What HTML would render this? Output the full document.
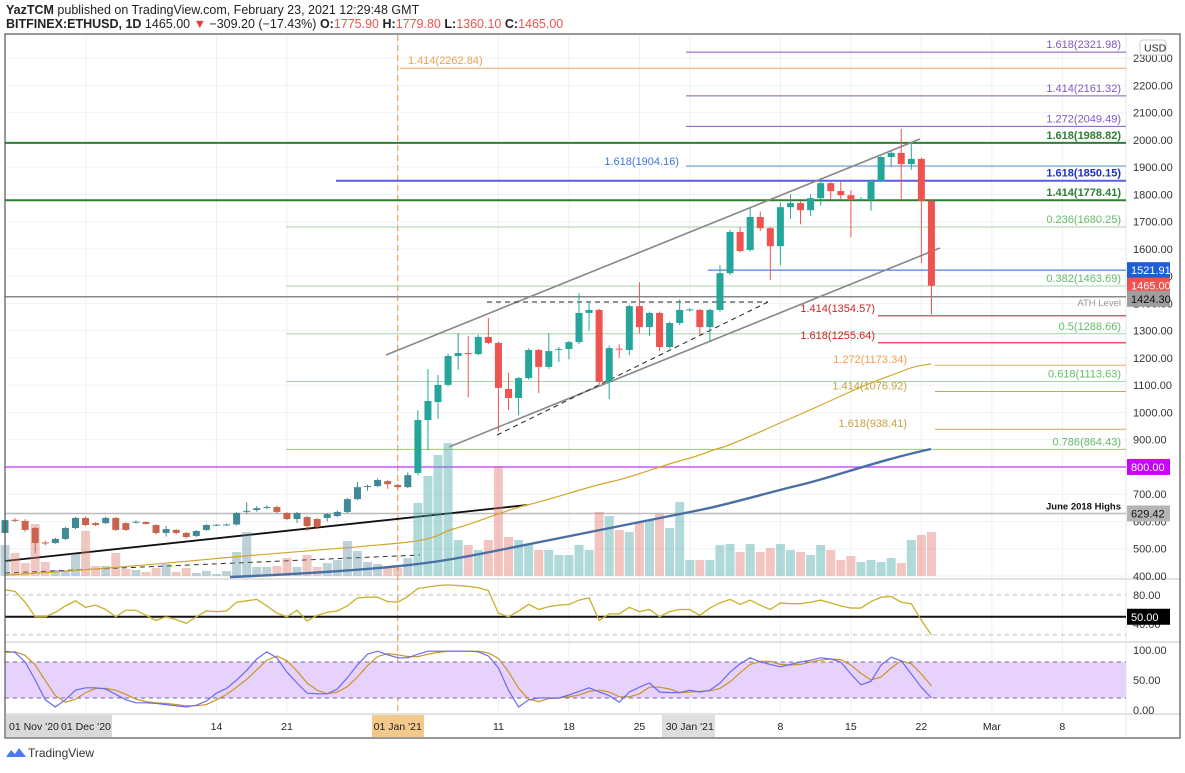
<!DOCTYPE html>
<html><head><meta charset="utf-8"><title>ETHUSD chart</title>
<style>
html,body{margin:0;padding:0;background:#fff;}
body{width:1185px;height:768px;overflow:hidden;font-family:"Liberation Sans",sans-serif;}
svg text{font-family:"Liberation Sans",sans-serif;}
</style></head>
<body>
<svg id="chart" width="1185" height="768" viewBox="0 0 1185 768" xmlns="http://www.w3.org/2000/svg">
<text x="6" y="14" font-size="12.5" fill="#222"><tspan font-weight="bold">YazTCM</tspan> published on TradingView.com, February 23, 2021 12:29:48 GMT</text>
<text x="6" y="28" font-size="12.5" fill="#222"><tspan font-weight="bold">BITFINEX:ETHUSD, 1D</tspan> 1465.00 <tspan fill="#e53935">▼</tspan> −309.20 (−17.43%) <tspan font-weight="bold">O:</tspan><tspan fill="#ef5350">1775.90</tspan> <tspan font-weight="bold">H:</tspan><tspan fill="#ef5350">1779.80</tspan> <tspan font-weight="bold">L:</tspan><tspan fill="#ef5350">1360.10</tspan> <tspan font-weight="bold">C:</tspan><tspan fill="#ef5350">1465.00</tspan></text>
<g id="grid"></g>
<g id="levels"></g>
<g id="volume"></g>
<g id="mas"></g>
<g id="candles"></g>
<g id="rsi"></g>
<g id="stoch"></g>
<g id="axis"></g>
<g id="timeaxis"></g>
<rect x="5" y="34" width="1175" height="704" fill="none" stroke="#555" stroke-width="1.2"/>
<g>
<path d="M6 757 L11 750 L15 754 L19 748 L26 757 Z" fill="#2962ff" opacity="0.85"/>
<text x="28" y="757" font-size="12" fill="#333">TradingView</text>
</g>
</svg>
<script>
const opens  = [558,606,602,576,523,521,536,576,613,594,594,613,594,598,598,587,558,569,558,547,569,586,587,589,637,642,651,653,631,609,616,609,613,620,635,682,728,730,748,734,726,778,972,1038,1101,1207,1218,1214,1277,1255,1086,1053,1126,1229,1167,1231,1233,1258,1365,1376,1112,1234,1229,1390,1313,1365,1240,1328,1375,1376,1313,1376,1511,1662,1596,1717,1676,1610,1753,1768,1742,1786,1841,1812,1797,1780,1779,1849,1937,1952,1911,1930,1775.9];
const highs  = [612,612,608,580,530,540,580,617,618,598,618,616,597,604,600,590,583,572,561,568,590,590,592,635,671,656,660,658,634,635,620,612,631,640,686,745,735,758,752,737,780,1009,1159,1137,1215,1291,1280,1285,1346,1260,1145,1130,1235,1233,1291,1240,1262,1438,1405,1380,1245,1250,1395,1478,1370,1370,1333,1415,1382,1380,1380,1540,1670,1680,1753,1737,1680,1770,1800,1775,1800,1860,1845,1850,1815,1790,1852,1940,1960,2040,1985,1935,1779.8];
const lows   = [550,598,562,484,512,518,532,572,583,583,590,565,565,593,588,552,545,553,538,543,566,584,584,585,628,636,645,630,605,595,565,572,600,616,631,678,713,726,720,720,722,770,862,976,1095,1156,1056,1210,1250,930,1009,990,1120,1071,1160,1185,1195,1250,1300,1100,1049,1200,1210,1290,1280,1225,1235,1320,1370,1280,1260,1370,1505,1587,1590,1665,1486,1540,1710,1690,1720,1760,1780,1780,1643,1775,1740,1845,1900,1778,1890,1548,1360.1];
const closes = [605,605,569,521,520,536,576,613,587,587,613,569,569,599,591,558,572,558,543,565,587,588,589,631,639,649,653,635,609,631,583,580,627,635,682,726,730,752,737,726,770,972,1042,1101,1207,1218,1214,1277,1255,1090,1053,1126,1229,1167,1225,1233,1258,1365,1376,1112,1236,1231,1390,1313,1365,1240,1328,1376,1378,1313,1376,1511,1662,1592,1717,1676,1610,1753,1768,1742,1786,1841,1812,1797,1779,1783,1849,1937,1952,1911,1930,1776,1465];
const volumes = [31,23,13,52,14,6,6,22,45,10,10,23,7,6,4,8,12,4,8,3,5,2,5,24,44,9,9,10,18,9,21,9,13,16,35,25,14,12,8,8,18,73,100,121,133,36,31,26,36,110,39,36,31,26,26,21,21,31,26,64,60,46,44,54,56,62,48,74,16,16,16,31,32,24,32,24,28,32,26,24,21,31,26,16,20,14,16,14,18,13,36,41,44];
const rsiValues = [87,85,70,50,50,56,65,72,63,66,60,50,59,59,52,45,50,46,41,50,58,57,58,70,72,74,65,55,50,59,44,52,56,58,65,76,77,77,71,70,78,89,91,93,94,93,92,90,86,55,50,58,67,60,64,66,67,73,76,45,54,54,63,57,60,50,57,60,60,52,62,69,74,67,73,66,60,69,68,68,70,73,69,65,62,62,71,77,78,70,68,45,25];
const stochK = [98,96,80,50,17,5,17,33,37,37,35,26,17,12,12,11,9,7,5,8,15,28,36,50,66,85,97,87,63,45,28,27,27,35,54,75,93,98,92,87,87,93,98,98,98,98,98,97,90,70,33,5,17,20,20,20,25,31,37,30,24,13,30,38,45,30,29,29,33,30,33,45,63,77,87,80,76,72,76,80,83,87,85,80,60,42,48,75,88,82,60,38,20];
const stochD = [96,97,91,75,49,24,13,18,29,36,36,33,26,18,14,12,11,9,7,7,9,17,26,38,51,67,83,90,82,65,45,33,27,30,39,55,74,89,94,92,89,89,93,96,98,98,98,98,95,86,64,36,18,14,19,20,22,25,31,33,30,22,22,27,38,38,35,29,30,31,32,36,47,62,76,81,81,76,75,76,80,83,85,84,75,61,50,55,70,82,77,60,40];
const priceTicks = [2300,2200,2100,2000,1900,1800,1700,1600,1500,1400,1300,1200,1100,1000,900,800,700,600,500,400];
const dateLabels = ["14","21","01 Jan '21","11","18","25","30 Jan '21","8","15","22","Mar","8"];
const dateOffsets = [-18,-11,0,10,17,24,29,38,45,52,59,66];
const fibPrices = [2321.98,2262.84,2161.32,2049.49,1988.82,1904.16,1850.15,1778.41,1680.25,1521.91,1463.69,1424.30,1354.57,1288.66,1255.64,1173.34,1113.63,1076.92,938.41,864.43,800,629.42];
const fibLabels = ["1.618(2321.98)","1.414(2262.84)","1.414(2161.32)","1.272(2049.49)","1.618(1988.82)","1.618(1904.16)","1.618(1850.15)","1.414(1778.41)","0.236(1680.25)","","0.382(1463.69)","ATH Level","1.414(1354.57)","0.5(1288.66)","1.618(1255.64)","1.272(1173.34)","0.618(1113.63)","1.414(1076.92)","1.618(938.41)","0.786(864.43)","","June 2018 Highs"];

const NS="http://www.w3.org/2000/svg";
function mk(tag,attrs,parent){const e=document.createElementNS(NS,tag);for(const k in attrs)e.setAttribute(k,attrs[k]);parent.appendChild(e);return e;}
const X0=5, DX=10.07, JAN1=39;
function xS(i){return X0+i*DX;}
function yP(p){return 576-(p-400)*0.2726;}
function yR(v){return 616.75-(v-50)*0.725;}
function yS(v){return 710-v*0.6;}
const PR=1126;
const G=document.getElementById('grid');
priceTicks.forEach(p=>{const l=mk('line',{x1:5,x2:PR,y1:yP(p),y2:yP(p),stroke:'#f0f2f6','stroke-width':1},G);

});
const gridX=[86].concat(dateOffsets.map(d=>xS(JAN1+d)));
gridX.forEach(x=>{const l=mk('line',{x1:x,x2:x,y1:35,y2:714,stroke:'#eef0f4','stroke-width':1},G);

});
[579,642,714].forEach(y=>{const l=mk('line',{x1:5,x2:1180,y1:y,y2:y,stroke:'#d8d8d8','stroke-width':1.5},G);

});
const ax=mk('line',{x1:PR,x2:PR,y1:34,y2:738,stroke:'#e6e6e6'},G);


const vline=mk('line',{x1:xS(JAN1),x2:xS(JAN1),y1:35,y2:714,stroke:'#f0a860','stroke-width':1.3,'stroke-dasharray':'6,4'},G);



const L=document.getElementById('levels');
const lvStyle=[
 ['#7e57c2',686,1,'#7e57c2','r'],['#f4a460',400,1,'#f0a050','l'],['#7e57c2',686,1,'#7e57c2','r'],['#7e57c2',686,1,'#7e57c2','r'],
 ['#2e7d32',5,2,'#2e7d32','r'],['#5b8fd6',686,1,'#3b78d8','ll'],['#5c5ce0',336,2,'#1e2fd1','r'],['#2e7d32',5,2,'#2e7d32','r'],
 ['#a5d6a7',286,1,'#66bb6a','r'],['#1e63d0',708,1,'',''],['#a5d6a7',286,1,'#66bb6a','r'],['#888',5,1.5,'#999','r'],
 ['#e53950',878,1.3,'#c62828','lr2'],['#a5d6a7',286,1,'#66bb6a','r'],['#e53950',878,1.3,'#c62828','lr2'],['#f4a460',935,1,'#f0a050','lr'],
 ['#a5d6a7',286,1,'#66bb6a','r'],['#c8a858',935,1,'#c8a040','lr'],['#c8a858',935,1,'#c8a040','lr'],['#9ccc65',286,1,'#66bb6a','r'],
 ['#cc55ff',5,1.5,'',''],['#bbb',5,1.5,'#111','r']];
fibPrices.forEach((p,i)=>{const s=lvStyle[i];const y=yP(p);
 const l=mk('line',{x1:s[1],x2:PR,y1:y,y2:y,stroke:s[0],'stroke-width':s[2]},L);
 
 
 if(fibLabels[i]){let tx,ta='end',ty=y-4;
  if(s[4]==='r'){tx=1121;} else if(s[4]==='l'){tx=408;ta='start';}
  else if(s[4]==='ll'){tx=679;ty=y-1;}
  else if(s[4]==='lr'){tx=s[1]-28;ty=y-2;}
  else {tx=s[1]-3;ty=y-4;}
  const bold=(i===21||i===4||i===7||i===6);
  const t=mk('text',{x:tx,y:ty,'font-size':11,fill:s[3],'text-anchor':ta,'font-weight':bold?'bold':'normal'},L);
  if(i===11){t.setAttribute('y',y+9);t.setAttribute('font-size',9.5);}
  if(i===21){t.setAttribute('font-size',9.5);t.setAttribute('y',y-4);}
  t.textContent=fibLabels[i];
  
  }
});
function seg(x1,y1,x2,y2,st,w,dash,name){const l=mk('line',{x1:x1,y1:y1,x2:x2,y2:y2,stroke:st,'stroke-width':w},L);if(dash)l.setAttribute('stroke-dasharray',dash);
 
 }
seg(386,355,920,139,'#888',1.6,null,'channel-upper');
seg(449,447,940,248,'#888',1.6,null,'channel-lower');
seg(5,561,527,505,'#111',1.8,null,'support-trendline');
seg(487,302,768,302,'#222',1,'5,4','triangle-top');
seg(497,435,768,302,'#222',1,'5,4','triangle-bottom');
seg(5,573,420,555,'#333',1,'5,4','volume-ma-dashed');

const V=document.getElementById('volume');
volumes.forEach((v,i)=>{const up=closes[i]>=opens[i];const h=v*1.0;
 const col=i<41?(up?'rgba(90,140,160,0.4)':'rgba(215,120,100,0.4)'):(up?'rgba(80,170,170,0.45)':'rgba(225,110,100,0.4)');
 const r=mk('rect',{x:xS(i)-4.5,y:576-h,width:9,height:h,fill:col},V);
 
 });

const M=document.getElementById('mas');
const p1=mk('path',{d:'M5 575 C100 570 200 560 233 557 S360 547 400 543 S440 533 450 530 C480 522 505 510 527 505 S590 486 610 482 S660 466 683 460 S705 452 720 448 S770 427 787 420 S845 394 861 387 S893 375 905 370 S925 365 931 364',fill:'none',stroke:'#d4a52a','stroke-width':1.2},M);


const p2=mk('path',{d:'M230 577 C300 574 360 570 400 566 S470 556 500 550 S570 536 600 530 S670 516 700 510 S770 492 800 485 S880 460 931 449',fill:'none',stroke:'#4a6fa5','stroke-width':2.4},M);



const C=document.getElementById('candles');
opens.forEach((o,i)=>{const c=closes[i];const up=c>=o;
 const col=i<41?(up?'#3f8a96':'#c8644e'):(up?'#26a69a':'#ef5350');const x=xS(i);
 const w=mk('line',{x1:x,x2:x,y1:yP(highs[i]),y2:yP(lows[i]),stroke:col,'stroke-width':1},C);
 
 
 const top=yP(Math.max(o,c)),bot=yP(Math.min(o,c));
 const b=mk('rect',{x:x-3.5,y:top,width:7,height:Math.max(1,bot-top),fill:col},C);
 
 });

const R=document.getElementById('rsi');
[80,25].forEach(v=>{const l=mk('line',{x1:5,x2:PR,y1:yR(v),y2:yR(v),stroke:'#bbb','stroke-dasharray':'4,4'},R);
 
 });
const r50=mk('line',{x1:5,x2:1126,y1:yR(50),y2:yR(50),stroke:'#111','stroke-width':2},R);


const rp=mk('polyline',{points:rsiValues.map((v,i)=>xS(i)+','+yR(v)).join(' '),fill:'none',stroke:'#c9b02a','stroke-width':1.3},R);



const S=document.getElementById('stoch');
const band=mk('rect',{x:5,y:yS(80),width:PR-5,height:yS(20)-yS(80),fill:'#e6d2fb'},S);


[80,20].forEach(v=>{const l=mk('line',{x1:5,x2:PR,y1:yS(v),y2:yS(v),stroke:'#7060a0','stroke-dasharray':'4,4'},S);
 
 });
const sd=mk('polyline',{points:stochD.map((v,i)=>xS(i)+','+yS(v)).join(' '),fill:'none',stroke:'#c8962a','stroke-width':1.2},S);


const sk=mk('polyline',{points:stochK.map((v,i)=>xS(i)+','+yS(v)).join(' '),fill:'none',stroke:'#6a6af0','stroke-width':1.2},S);



const A=document.getElementById('axis');
priceTicks.forEach(p=>{const t=mk('text',{x:1133,y:yP(p)+4,'font-size':11,fill:'#333'},A);t.textContent=p.toFixed(2);
 
 });
[[80,'80.00'],[40,'40.00']].forEach(a=>{const t=mk('text',{x:1133,y:yR(a[0])+4,'font-size':11,fill:'#333'},A);t.textContent=a[1];
 
 });
[[100,'100.00'],[50,'50.00'],[0,'0.00']].forEach(a=>{const t=mk('text',{x:1133,y:yS(a[0])+4,'font-size':11,fill:'#333'},A);t.textContent=a[1];
 
 });
function badge(y,txt,bg,fg,name){const r=mk('rect',{x:1127,y:y-8,width:43,height:16,fill:bg},A);
 
 
 const t=mk('text',{x:1131,y:y+4,'font-size':11,fill:fg},A);t.textContent=txt;
 
 }
badge(yP(1521.91),'1521.91','#1e5fd6','#fff','badge-1521');
badge(yP(1465),'1465.00','#ef5350','#fff','badge-last-price');
badge(yP(1424.30)+2,'1424.30','#9e9e9e','#111','badge-ath');
badge(yP(800),'800.00','#cc00ff','#fff','badge-800');
badge(yP(629.42),'629.42','#b5b5b5','#111','badge-june-2018');
badge(yR(50),'50.00','#000','#fff','badge-rsi-50');
const ub=mk('rect',{x:1140,y:40,width:26,height:15,rx:3,fill:'#fff',stroke:'#ccc'},A);


const ut=mk('text',{x:1144,y:51.5,'font-size':10.5,fill:'#222'},A);ut.textContent='USD';



const T=document.getElementById('timeaxis');
function tbox(x,w,bg,name){const r=mk('rect',{x:x,y:715,width:w,height:22,fill:bg},T);
 
 }
tbox(6,106,'#d9d9d9','time-badge-left');
tbox(372,52,'#f3c98b','time-badge-jan');
tbox(662,53,'#dedede','time-badge-30jan');
[[9,"01 Nov '20"],[61,"01 Dec '20"]].forEach(a=>{const t=mk('text',{x:a[0],y:730,'font-size':10.5,fill:'#222'},T);t.textContent=a[1];
 
 });
dateLabels.forEach((d,k)=>{const x=xS(JAN1+dateOffsets[k]);
 const t=mk('text',{x:x,y:730,'font-size':10.5,fill:'#222','text-anchor':'middle'},T);t.textContent=d;
 
 });
</script>
</body></html>
